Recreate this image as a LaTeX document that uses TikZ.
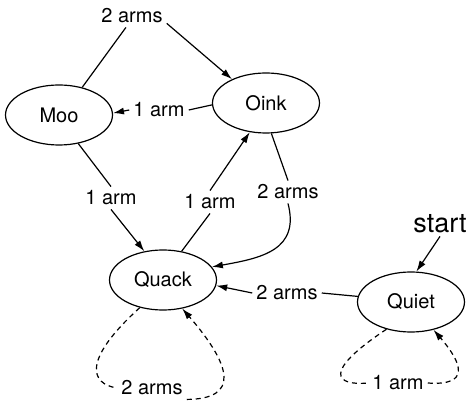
\documentclass[tikz,border=0pt]{standalone}
\usepackage{fontspec}
\setmainfont{TeX Gyre Heros}
\usetikzlibrary{shapes.geometric,arrows.meta}
\begin{document}
\begin{tikzpicture}[x=1pt,y=-1pt,
  state/.style={draw,ellipse,line width=1.2pt,minimum width=107pt,minimum height=60pt,inner sep=0pt,font=\fontsize{20}{24}\selectfont},
  lbl/.style={inner sep=4pt,font=\fontsize{20}{24}\selectfont},
  conn/.style={line width=1.2pt},
  arr/.style={conn,-{Latex[length=11pt,width=7pt]}},
  dsh/.style={dash pattern=on 5pt off 4pt}]
\useasboundingbox (0,0) rectangle (474,406);
\node[state] (moo) at (59,115) {Moo};
\node[state] (oink) at (266,103) {Oink};
\node[state] (quack) at (163,280) {Quack};
\node[state] (quiet) at (411,302) {Quiet};
\node[lbl] (l1) at (132,16) {2 arms};
\node[lbl] (l2) at (159,110) {1 arm};
\node[lbl] (l3) at (111,198) {1 arm};
\node[lbl] (l4) at (210,202) {1 arm};
\node[lbl] (l5) at (288,192) {2 arms};
\node[lbl] (l7) at (287,293) {2 arms};
\node[lbl] (l6) at (152,388) {2 arms};
\node[lbl] (l8) at (398,383) {1 arm};
\node[inner sep=3pt,font=\fontsize{27}{30}\selectfont] (start) at (440,224) {start};
% Moo -> Oink (2 arms)
\draw[conn] (moo.50) -- (l1.-118);
\draw[arr] (l1.-12) -- (oink.145);
% Oink -> Moo (1 arm)
\draw[conn] (oink.182) -- (l2.east);
\draw[arr] (l2.west) -- (moo.2);
% Moo -> Quack (1 arm)
\draw[conn] (moo.-56) -- (l3.north);
\draw[arr] (l3.south) -- (quack.123);
% Quack -> Oink (1 arm)
\draw[conn] (quack.57) -- (l4.south);
\draw[arr] (l4.north) -- (oink.-119);
% Oink -> Quack (2 arms)
\draw[conn] (oink.-80) -- (l5.north);
\draw[arr] (l5.south) .. controls (300,250) and (262,258) .. (quack.15);
% Quiet -> Quack (2 arms)
\draw[conn] (quiet.174) -- (l7.east);
\draw[arr] (l7.west) -- (quack.-6);
% start
\draw[arr] (start.south) -- (quiet.80);
% Quack loop
\draw[conn,dsh] (quack.-130) .. controls (82,360) and (90,384) .. (l6.west);
\draw[arr,dsh] (l6.south east) .. controls (240,399) and (232,366) .. (quack.-56);
% Quiet loop
\draw[conn,dsh] (quiet.-132) .. controls (322,372) and (335,386) .. (l8.west);
\draw[arr,dsh] (l8.east) .. controls (470,386) and (463,364) .. (quiet.-51);
\end{tikzpicture}
\end{document}
